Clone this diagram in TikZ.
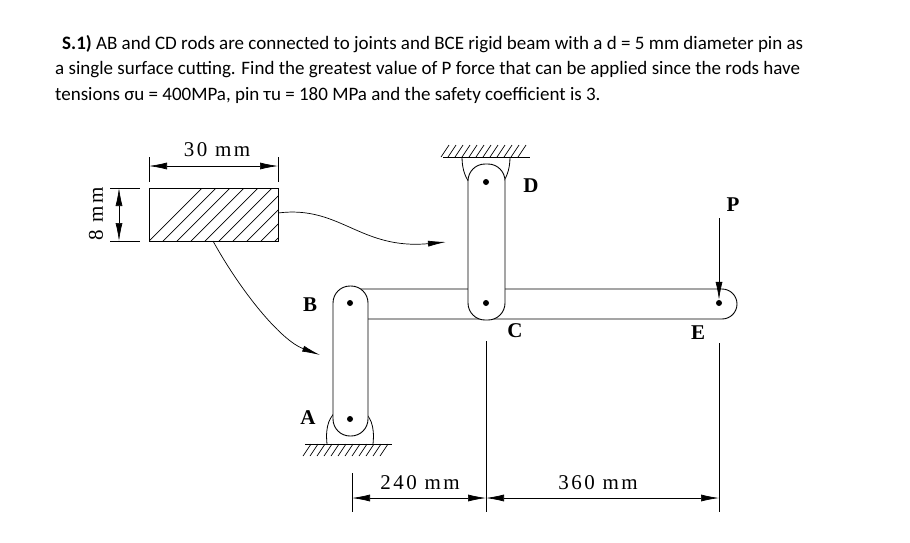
\documentclass[tikz,border=0pt]{standalone}
\usepackage{fontspec}
\setmainfont{Liberation Serif}
\newfontfamily\calib{Carlito}
\newfontfamily\spaced[LetterSpace=12]{Liberation Serif}
\usetikzlibrary{arrows.meta}
\tikzset{
  lbl/.style={font=\fontsize{21}{21}\selectfont\bfseries, inner sep=0pt},
  dimlbl/.style={font=\spaced\fontsize{21}{21}\selectfont, inner sep=0pt},
  txt/.style={font=\calib\fontsize{19}{19}\selectfont, inner sep=0pt, anchor=base west},
  rod/.style={draw, line width=0.9pt, fill=white, rounded corners=17pt},
  dimarr/.style={-{Latex[length=18pt,width=7pt]}, line width=0.7pt},
  thin/.style={line width=0.7pt},
  pin/.style={circle, fill=black, inner sep=0pt, minimum size=6pt}
}
\begin{document}
\begin{tikzpicture}[x=1pt,y=-1pt]
\useasboundingbox (0,0) rectangle (910,542);
\fill[white] (0,0) rectangle (910,542);
% text
\node[txt] (t1) at (62,49) {\textbf{S.1)} AB and CD rods are connected to joints and BCE rigid beam with a d = 5 mm diameter pin as};
\node[txt] (t2) at (55,74) {a single surface cutting. Find the greatest value of P force that can be applied since the rods have};
\node[txt] (t3) at (55,100) {tensions σu = 400MPa, pin τu = 180 MPa and the safety coefficient is 3.};
% cross section
\begin{scope}
\clip (149,188) rectangle (278,241);
\foreach \i in {0,...,14} \draw[thin] (140+\i*14,250) -- (140+\i*14+70,180);
\end{scope}
\draw[line width=0.9pt] (149,188) rectangle (278,241);
\draw[thin] (149,157) -- (149,182) (278,157) -- (278,182);
\coordinate (w1) at (149,166); \coordinate (w2) at (278,166);
\draw[dimarr] (213,166) -- (w1); \draw[dimarr] (213,166) -- (w2);
\node[dimlbl] (w) at (217,150) {30 mm};
\draw[thin] (110,188) -- (140,188) (110,241) -- (140,241);
\draw[dimarr] (119,214) -- (119,188); \draw[dimarr] (119,214) -- (119,241);
\node[dimlbl, rotate=90] (h) at (96,214) {8 mm};
% curved arrows
\draw[thin, -{Latex[length=18pt,width=6pt]}] (278,213) .. controls (340,205) and (360,250) .. (446,242);
\draw[thin, -{Latex[length=18pt,width=6pt]}] (213,241) .. controls (240,290) and (280,340) .. (320,355);
% supports
\draw[line width=0.9pt] (305,444) -- (392,444);
\foreach \i in {0,...,11} \draw[thin] (311+\i*7,444) -- (303+\i*7,456);
\draw[line width=0.8pt] (327,444) .. controls (325,425) and (330,416) .. (338,410);
\draw[line width=0.8pt] (373,444) .. controls (375,425) and (370,416) .. (362,410);
\draw[line width=0.9pt] (443,157) -- (530,157);
\foreach \i in {0,...,11} \draw[thin] (449+\i*7,145) -- (441+\i*7,157);
\draw[line width=0.8pt] (462,157) .. controls (462,170) and (466,180) .. (472,185);
\draw[line width=0.8pt] (510,157) .. controls (510,170) and (506,180) .. (500,185);
% beam and rods
\draw[rod, rounded corners=15pt] (335,289) rectangle (737,319);
\draw[rod] (333,286) rectangle (368,436);
\draw[rod] (468,164) rectangle (505,320);
\node[pin] (A) at (350,419) {};
\node[pin] (B) at (350,303) {};
\node[pin] (C) at (486,303) {};
\node[pin] (D) at (486,182) {};
\node[pin] (E) at (719,303) {};
\node[lbl] (lA) at (308,418) {A};
\node[lbl] (lB) at (310,305) {B};
\node[lbl] (lC) at (515,331) {C};
\node[lbl] (lD) at (531,186) {D};
\node[lbl] (lE) at (698,333) {E};
\node[lbl] (lP) at (733,205) {P};
\coordinate (p0) at (719,218);
\draw[thin, -{Latex[length=18pt,width=7pt]}] (p0) -- (E.north);
% dimensions
\draw[thin] (352,473) -- (352,512) (486,341) -- (486,512) (719,343) -- (719,512);
\coordinate (d1) at (352,498); \coordinate (d2) at (486,498); \coordinate (d3) at (719,498);
\draw[dimarr] (420,498) -- (d1); \draw[dimarr] (420,498) -- (d2);
\draw[dimarr] (600,498) -- (d2); \draw[dimarr] (600,498) -- (d3);
\node[dimlbl] (l240) at (420,483) {240 mm};
\node[dimlbl] (l360) at (598,483) {360 mm};
\end{tikzpicture}
\end{document}
